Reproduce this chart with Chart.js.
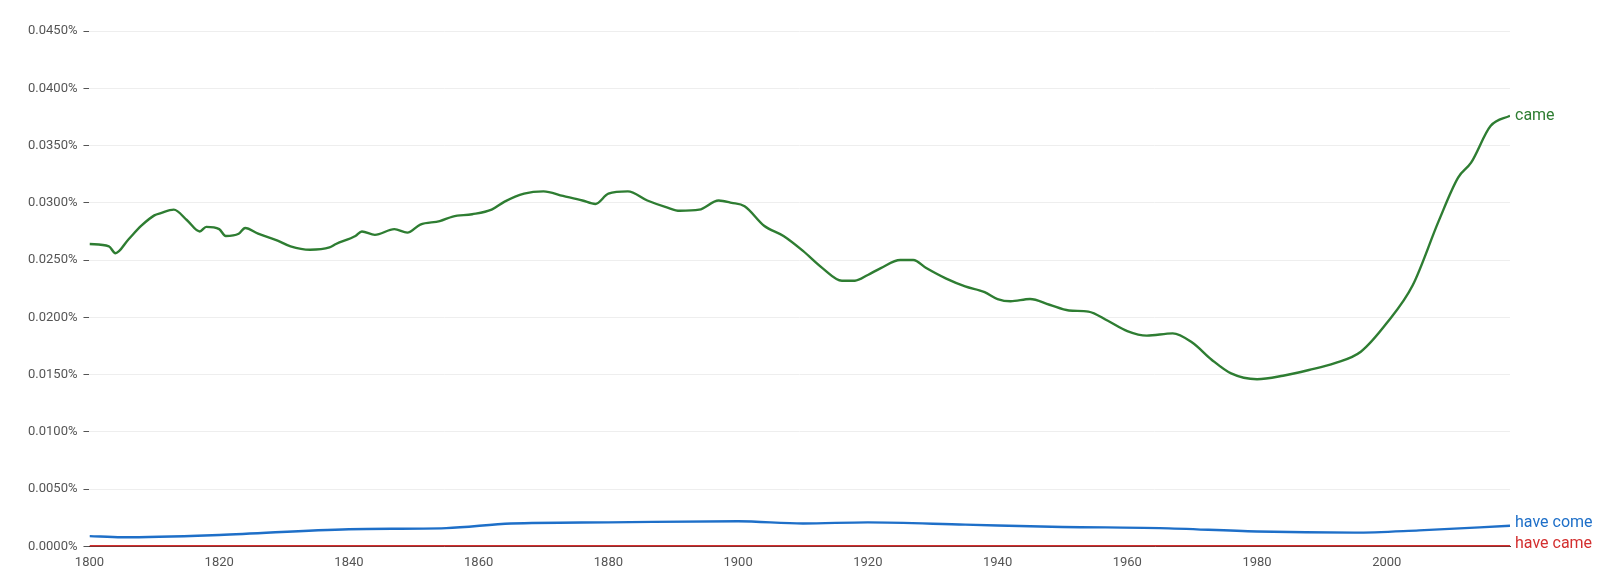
<!DOCTYPE html>
<html>
<head>
<meta charset="utf-8">
<script src="https://cdn.jsdelivr.net/npm/chart.js@4/dist/chart.umd.min.js"></script>
<style>
  body { margin: 0; background: #fff; }
  #wrap { width: 1624px; height: 574px; }
</style>
</head>
<body>
<div id="wrap"><canvas id="chart"></canvas></div>
<script>
// values (percent)
const cameYears = [1800,1803,1804,1806,1808,1810,1811,1813,1815,1817,1818,1820,1821,1823,1824,1826,1829,1831,1834,1837,1838,1841,1842,1844,1847,1849,1851,1854,1856,1859,1862,1864,1867,1870,1873,1876,1878,1880,1883,1886,1889,1891,1894,1897,1899,1901,1904,1907,1910,1913,1916,1918,1920,1922,1925,1927,1929,1932,1935,1938,1940,1942,1945,1948,1951,1954,1957,1960,1963,1967,1970,1973,1976,1980,1984,1988,1992,1996,2000,2004,2008,2011,2013,2016,2019];
const cameValues = [0.0264,0.0262,0.0256,0.0268,0.0280,0.0289,0.0291,0.0294,0.0285,0.0275,0.0279,0.0277,0.0271,0.0273,0.0278,0.0273,0.0267,0.0262,0.0259,0.0261,0.0264,0.0271,0.0275,0.0272,0.0277,0.0274,0.0281,0.0284,0.0288,0.0290,0.0294,0.0301,0.0308,0.0310,0.0306,0.0302,0.0299,0.0308,0.0310,0.0302,0.0296,0.0293,0.0294,0.0302,0.0300,0.0297,0.0280,0.0271,0.0258,0.0243,0.0232,0.0232,0.0237,0.0243,0.0250,0.0250,0.0243,0.0234,0.0227,0.0222,0.0216,0.0214,0.0216,0.0211,0.0206,0.0205,0.0197,0.0188,0.0184,0.0186,0.0178,0.0163,0.0151,0.0146,0.0149,0.0154,0.0160,0.0170,0.0195,0.0228,0.0284,0.0322,0.0335,0.0367,0.0376];
const haveComeYears = [1800,1805,1820,1840,1855,1865,1880,1900,1910,1920,1935,1950,1965,1980,1995,2005,2019];
const haveComeValues = [0.0009,0.0008,0.0010,0.0015,0.0016,0.0020,0.0021,0.0022,0.0020,0.0021,0.0019,0.0017,0.0016,0.0013,0.0012,0.0014,0.0018];
const haveCameYears = [1800,1900,2019];
const haveCameValues = [0.00001,0.00001,0.00001];
const yTicks = [0,0.005,0.01,0.015,0.02,0.025,0.03,0.035,0.04,0.045];

function toPoints(xs, ys) { return xs.map((x, i) => ({ x: x, y: ys[i] })); }

const series = [
  { label: 'came', color: '#2e7d32', xs: cameYears, ys: cameValues },
  { label: 'have come', color: '#1e6fc8', xs: haveComeYears, ys: haveComeValues },
  { label: 'have came', color: '#d32f2f', xs: haveCameYears, ys: haveCameValues }
];

// draw series name at the right end of each line
const endLabels = {
  id: 'endLabels',
  afterDatasetsDraw(chart) {
    const ctx = chart.ctx;
    ctx.save();
    ctx.font = '16px Roboto';
    ctx.textBaseline = 'middle';
    chart.data.datasets.forEach((ds, i) => {
      const pts = chart.getDatasetMeta(i).data;
      const p = pts[pts.length - 1];
      ctx.fillStyle = ds.borderColor;
      let y = p.y;
      if (ds.label === 'have come') y -= 3;
      if (ds.label === 'have came') y -= 2;
      ctx.fillText(ds.label, p.x + 5, y);
    });
    ctx.restore();
  }
};

new Chart(document.getElementById('chart'), {
  type: 'line',
  data: {
    datasets: series.map(s => ({
      label: s.label,
      data: toPoints(s.xs, s.ys),
      borderColor: s.color,
      borderWidth: 2.4,
      pointRadius: 0,
      cubicInterpolationMode: 'monotone'
    }))
  },
  options: {
    responsive: true,
    maintainAspectRatio: false,
    animation: false,
    layout: { padding: { top: 31, right: 114, left: 22, bottom: 0 } },
    plugins: { legend: { display: false }, tooltip: { enabled: false } },
    scales: {
      x: {
        type: 'linear', min: 1800, max: 2019,
        afterBuildTicks: ax => { ax.ticks = [1800,1820,1840,1860,1880,1900,1920,1940,1960,1980,2000].map(v => ({ value: v })); },
        ticks: { color: '#555', font: { family: 'Roboto', size: 13 }, maxRotation: 0, callback: v => String(v) },
        grid: { display: false, drawTicks: true, tickLength: 6 },
        border: { color: '#333', width: 1 }
      },
      y: {
        min: 0, max: 0.045,
        afterBuildTicks: ax => { ax.ticks = yTicks.map(v => ({ value: v })); },
        ticks: { color: '#555', font: { family: 'Roboto', size: 13 }, padding: 6, callback: v => v.toFixed(4) + '%' },
        grid: { color: '#eeeeee', tickColor: '#555', tickLength: 6, tickWidth: 1 },
        border: { display: false }
      }
    }
  },
  plugins: [endLabels]
});
</script>
</body>
</html>
